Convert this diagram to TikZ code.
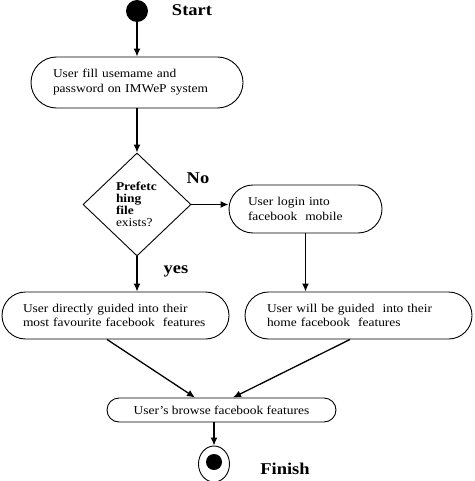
\documentclass[tikz,border=0pt]{standalone}
\usepackage{fontspec}
\setmainfont{Liberation Serif}[FakeStretch=1.12]
\usetikzlibrary{arrows.meta,shapes.geometric,calc}
\begin{document}
\begin{tikzpicture}[x=1pt,y=-1pt,
  act/.style={draw, line width=0.9pt, rectangle, inner sep=0pt, align=left, font=\fontsize{12}{14.5}\selectfont},
  lbl/.style={font=\fontsize{16.5}{18}\selectfont\bfseries, inner sep=0pt},
  flow/.style={line width=1.3pt, -{Latex[length=8pt,width=7pt]}},
]
\useasboundingbox (0,0) rectangle (474,481);
% start
\node[circle, fill=black, minimum size=22pt, inner sep=0pt] (start) at (137,11) {};
\node[lbl] (lstart) at (192,10) {Start};
% box1
\node[act, rounded corners=25.5pt, minimum width=212pt, minimum height=51pt, text width=168pt,
      font=\fontsize{12}{15}\selectfont] (b1) at (137,82.5) {User fill usemame and\\password on IMWeP system};
% decision
\node[draw, line width=0.9pt, diamond, minimum width=108pt, minimum height=103pt, inner sep=0pt,
      text width=42pt, align=left, font=\fontsize{12}{12}\selectfont] (dec) at (137,204.5)
  {\textbf{Prefetc}\\\textbf{hing}\\\textbf{file}\\exists?};
\node[lbl] (lno) at (198,178) {No};
\node[lbl] (lyes) at (176,271) {yes};
% box2
\node[act, rounded corners=24pt, minimum width=153pt, minimum height=48pt, text width=115pt] (b2) at (305.5,209)
  {User login into\\facebook\ \ mobile};
% box3
\node[act, rounded corners=23.5pt, minimum width=227pt, minimum height=47pt, text width=185pt] (b3) at (115.5,315.5)
  {User directly guided into their\\most favourite facebook\ \ features};
% box4
\node[act, rounded corners=23.5pt, minimum width=227pt, minimum height=47pt, text width=183pt] (b4) at (358.5,315.5)
  {User will be guided\ \ into their\\home facebook\ \ features};
% box5
\node[act, rounded corners=12pt, minimum width=229pt, minimum height=24pt, align=center] (b5) at (221.5,410)
  {User's browse facebook features};
% finish
\node[draw, line width=0.9pt, ellipse, minimum width=31pt, minimum height=36pt, inner sep=0pt] (fin) at (214,464) {};
\node[circle, fill=black, minimum size=16pt, inner sep=0pt] (finin) at (214,462) {};
\node[lbl] (lfin) at (285,469) {Finish};
% connectors
\draw[flow] (start) -- (b1);
\draw[flow] (b1) -- (dec);
\draw[flow] (dec.east) -- (b2.west |- dec.east);
\draw[flow] (dec.south) -- (dec.south |- b3.north);
\draw[flow] (b2.south) -- (b2.south |- b4.north);
\draw[flow] ($(b3.south)+(-8.5,0)$) -- ($(b5.north)+(-26.5,0)$);
\draw[flow] ($(b4.south)+(-8.5,0)$) -- ($(b5.north)+(11.5,0)$);
\draw[flow] (b5.south -| fin.north) -- (fin.north);
\end{tikzpicture}
\end{document}
